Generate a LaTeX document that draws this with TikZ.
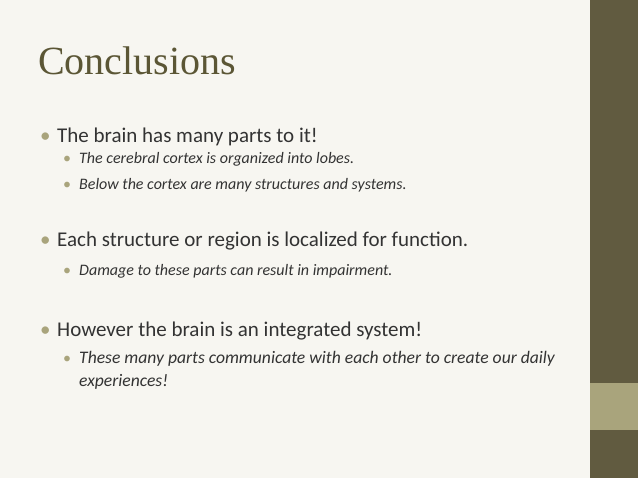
\documentclass[tikz,border=0pt]{standalone}
\usepackage{fontspec}
\setmainfont{Carlito}
\newfontfamily\titlefont{Liberation Serif}
\definecolor{bg}{HTML}{F7F6F1}
\definecolor{dark}{HTML}{615B40}
\definecolor{light}{HTML}{A9A47C}
\definecolor{titlec}{HTML}{5B5635}
\definecolor{txt}{HTML}{333333}
\begin{document}
\begin{tikzpicture}[x=1pt,y=-1pt,
  lvA/.style={anchor=base west,font=\fontsize{21}{24}\selectfont,text=txt,inner sep=0},
  lvB/.style={anchor=base west,font=\fontsize{16}{20}\selectfont\itshape,text=txt,inner sep=0},
  lvC/.style={anchor=base west,font=\fontsize{17.6}{20}\selectfont\itshape,text=txt,inner sep=0},
  bul/.style={anchor=base west,text=light,inner sep=0}]
\fill[bg] (0,0) rectangle (638,478);
\useasboundingbox (0,0) rectangle (638,478);
\fill[dark] (590,0) rectangle (638,478);
\fill[light] (590,383) rectangle (638,430);
\node[anchor=base west,inner sep=0,text=titlec,font=\titlefont\fontsize{40}{44}\selectfont] (title) at (38,75) {Conclusions};
\node[bul,font=\fontsize{21}{24}\selectfont] (b1) at (40,143) {•};
\node[lvA] (t1) at (57,143) {The brain has many parts to it!};
\node[bul,font=\fontsize{16}{18}\selectfont] (b2) at (63,164) {•};
\node[lvB] (t2) at (79,164) {The cerebral cortex is organized into lobes.};
\node[bul,font=\fontsize{16}{18}\selectfont] (b3) at (63,190) {•};
\node[lvB] (t3) at (79,190) {Below the cortex are many structures and systems.};
\node[bul,font=\fontsize{21}{24}\selectfont] (b4) at (40,247) {•};
\node[lvA] (t4) at (57,247) {Each structure or region is localized for function.};
\node[bul,font=\fontsize{16}{18}\selectfont] (b5) at (63,276) {•};
\node[lvB] (t5) at (79,276) {Damage to these parts can result in impairment.};
\node[bul,font=\fontsize{21}{24}\selectfont] (b6) at (40,337) {•};
\node[lvA] (t6) at (57,337) {However the brain is an integrated system!};
\node[bul,font=\fontsize{16}{18}\selectfont] (b7) at (63,364) {•};
\node[lvC] (t7) at (79,364) {These many parts communicate with each other to create our daily};
\node[lvC] (t8) at (79,387) {experiences!};
\end{tikzpicture}
\end{document}
